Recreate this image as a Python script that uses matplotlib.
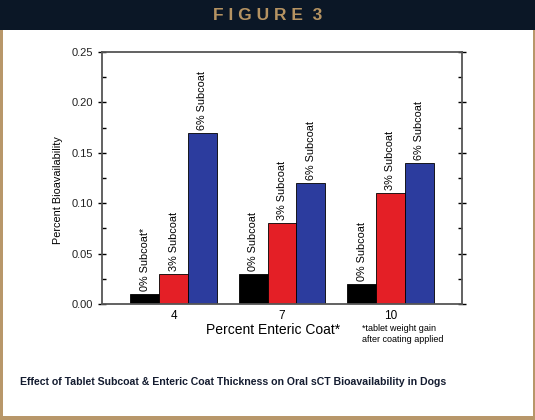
import numpy as np
import matplotlib
matplotlib.use("Agg")
import matplotlib.pyplot as plt
from matplotlib.patches import Rectangle
from matplotlib.ticker import MultipleLocator

# Data
coats = ["4", "7", "10"]
subcoat_0 = [0.01, 0.03, 0.02]
subcoat_3 = [0.03, 0.08, 0.11]
subcoat_6 = [0.17, 0.12, 0.14]
labels_0 = ["0% Subcoat*", "0% Subcoat", "0% Subcoat"]
labels_3 = ["3% Subcoat"] * 3
labels_6 = ["6% Subcoat"] * 3

plt.rcParams['font.family'] = ['Liberation Sans', 'DejaVu Sans']

W, H = 535, 420
fig = plt.figure(figsize=(W / 100, H / 100), dpi=100)
fig.patch.set_facecolor('white')

# Frame: dark header band + gold border
gold = '#b8976a'
navy = '#0b1726'
fig.patches.append(Rectangle((0, 1 - 30 / H), 1, 30 / H, transform=fig.transFigure,
                             facecolor=navy, edgecolor='none', zorder=0))
fig.patches.append(Rectangle((0, 0), 2.5 / W, 1 - 30 / H, transform=fig.transFigure,
                             facecolor=gold, edgecolor='none', zorder=0))
fig.patches.append(Rectangle((1 - 2.5 / W, 0), 2.5 / W, 1 - 30 / H, transform=fig.transFigure,
                             facecolor=gold, edgecolor='none', zorder=0))
fig.patches.append(Rectangle((0, 0), 1, 4 / H, transform=fig.transFigure,
                             facecolor=gold, edgecolor='none', zorder=0))
fig.text(268 / W, 1 - 15 / H, "F I G U R E  3", color='#b59362', fontsize=12.5,
         fontweight='bold', ha='center', va='center')

# Axes
ax = fig.add_axes([102 / W, 1 - 304 / H, 360 / W, 252 / H])
x = np.arange(len(coats))
w = 0.267
series = [(subcoat_0, labels_0, '#000000'),
          (subcoat_3, labels_3, '#e41f26'),
          (subcoat_6, labels_6, '#2c3c9e')]
for i, (vals, labs, col) in enumerate(series):
    xs = x + (i - 1) * w
    ax.bar(xs, vals, width=w, color=col, edgecolor='black', linewidth=0.6, zorder=2)
    for xi, v, lab in zip(xs, vals, labs):
        ax.text(xi, v + 0.003, lab, rotation=90, ha='center', va='bottom', fontsize=7.8)

ax.set_xlim(-0.659, 2.659)
ax.set_ylim(0, 0.25)
ax.set_xticks(x)
ax.set_xticklabels(coats, fontsize=8.5)
ax.yaxis.set_major_locator(MultipleLocator(0.05))
ax.yaxis.set_minor_locator(MultipleLocator(0.025))
ax.set_yticklabels([f"{t:.2f}" for t in ax.get_yticks()], fontsize=8, color='#222222')
ax.tick_params(axis='x', length=0, pad=4)
ax.tick_params(axis='y', which='major', direction='inout', length=6, width=1, right=True)
ax.tick_params(axis='y', which='minor', direction='in', length=3, width=1, right=True)
for s in ax.spines.values():
    s.set_color('#555555')
    s.set_linewidth(1.3)

fig.text(58 / W, 1 - 190 / H, "Percent Bioavailability", rotation=90,
         ha='center', va='center', fontsize=7.8)
fig.text(273 / W, 1 - 330 / H, "Percent Enteric Coat*", ha='center', va='center', fontsize=10)
fig.text(362 / W, 1 - 334 / H, "*tablet weight gain\nafter coating applied",
         ha='left', va='center', fontsize=6.5, linespacing=1.2)

fig.text(20 / W, 1 - 382 / H,
         "Effect of Tablet Subcoat & Enteric Coat Thickness on Oral sCT Bioavailability in Dogs",
         fontweight='bold', fontsize=7.6, color='#141c30', ha='left', va='center')

fig.savefig("out.png", dpi=100)
